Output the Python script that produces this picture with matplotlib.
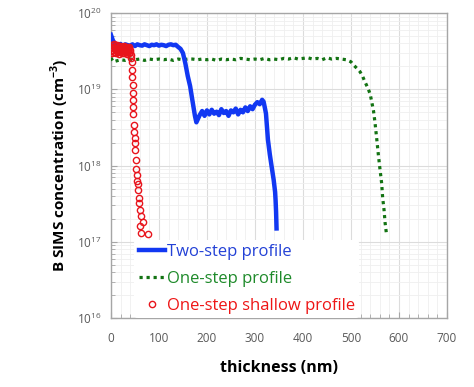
import matplotlib
matplotlib.use("Agg")
import matplotlib.pyplot as plt
from matplotlib.ticker import MultipleLocator, LogLocator, NullFormatter

plt.rcParams['font.family'] = ['Open Sans', 'DejaVu Sans']
plt.rcParams['mathtext.fontset'] = 'custom'
plt.rcParams['mathtext.rm'] = 'Open Sans'
plt.rcParams['mathtext.bf'] = 'Open Sans:bold'

# Two-step profile (blue)
two_x = [0, 2, 4, 6, 8, 10, 15, 20, 25, 30, 35, 40, 45, 50, 55, 60, 65, 70, 75, 80, 85, 90,
         95, 100, 105, 110, 115, 120, 125, 130, 135, 140, 145, 150, 155, 160, 165, 170, 175,
         178, 182, 185, 190, 195, 200, 205, 210, 215, 220, 225, 230, 235, 240, 245, 250, 255,
         260, 265, 270, 275, 280, 285, 290, 295, 300, 305, 310, 315, 318, 321, 323, 327, 331,
         335, 339, 342, 343, 344, 345]
two_y = [5.2e19, 4.8e19, 4.4e19, 4.2e19, 4.0e19, 3.9e19, 3.8e19, 3.95e19, 3.7e19, 3.9e19,
         3.8e19, 3.75e19, 3.9e19, 3.7e19, 3.9e19, 3.8e19, 3.75e19, 3.9e19, 3.8e19, 3.7e19,
         3.85e19, 3.8e19, 3.9e19, 3.75e19, 3.85e19, 3.8e19, 3.7e19, 3.85e19, 3.9e19, 3.8e19,
         3.85e19, 3.6e19, 3.4e19, 3.0e19, 2.2e19, 1.5e19, 1.1e19, 7.0e18, 4.5e18,
         3.7e18, 4.2e18, 4.6e18, 5.2e18, 4.5e18, 5.3e18, 4.7e18, 5.4e18, 4.8e18, 5.1e18,
         4.6e18, 5.5e18, 4.9e18, 5.2e18, 4.5e18, 5.3e18, 5.0e18, 5.6e18, 4.7e18, 5.4e18,
         5.0e18, 5.8e18, 5.2e18, 6.0e18, 5.5e18, 6.3e18, 6.8e18, 6.4e18, 7.3e18, 6.9e18,
         5.6e18, 4.8e18, 2.2e18, 1.4e18, 9.5e17, 6.5e17, 4.5e17, 3.5e17, 2.5e17, 1.5e17]

# One-step profile (green)
one_x = [0, 5, 10, 20, 30, 40, 50, 60, 70, 80, 90, 100, 110, 120, 130, 140, 150, 160, 170,
         180, 190, 200, 210, 220, 230, 240, 250, 260, 270, 280, 290, 300, 310, 320, 330, 340,
         350, 360, 370, 380, 390, 400, 410, 420, 430, 440, 450, 460, 470, 480, 490, 500, 505,
         512, 519, 524, 529, 535, 540, 544, 547, 550, 553.5, 557, 560, 564, 566, 569, 571, 574]
one_y = [2.6e19, 2.3e19, 2.35e19, 2.45e19, 2.4e19, 2.5e19, 2.45e19, 2.5e19, 2.4e19, 2.5e19,
         2.45e19, 2.5e19, 2.45e19, 2.5e19, 2.4e19, 2.5e19, 2.45e19, 2.5e19, 2.5e19, 2.45e19,
         2.5e19, 2.45e19, 2.5e19, 2.4e19, 2.5e19, 2.45e19, 2.5e19, 2.45e19, 2.55e19, 2.5e19,
         2.45e19, 2.5e19, 2.45e19, 2.55e19, 2.45e19, 2.5e19, 2.45e19, 2.55e19, 2.5e19, 2.6e19,
         2.5e19, 2.55e19, 2.6e19, 2.5e19, 2.55e19, 2.45e19, 2.6e19, 2.5e19, 2.55e19, 2.5e19,
         2.45e19, 2.3e19, 2.1e19, 1.9e19, 1.7e19, 1.5e19, 1.26e19, 1.05e19, 8.7e18, 6.5e18,
         5.2e18, 3.7e18, 2.3e18, 1.4e18, 9.5e17, 5.8e17, 3.8e17, 2.6e17, 1.8e17, 1.26e17]

# One-step shallow profile (red)
sh_x = [0, 1, 2, 3, 4, 5, 6, 7, 8, 9, 10, 11, 12, 13, 14, 15, 16, 17, 18, 19, 20, 21, 22, 23,
        24, 25, 26, 27, 28, 29, 30, 31, 32, 33, 34, 35, 36, 37, 38, 39, 40, 41, 42,
        43, 44, 44, 45, 45, 46, 46, 47, 48, 49, 50, 50, 51, 52, 53, 54, 55, 56, 57, 58, 59,
        60, 62, 66, 60, 63, 77]
sh_y = [3.6e19, 3.2e19, 3.8e19, 3.0e19, 3.5e19, 3.3e19, 3.9e19, 3.1e19, 3.4e19, 3.7e19,
        3.0e19, 3.5e19, 3.2e19, 3.8e19, 3.1e19, 3.4e19, 3.6e19, 2.9e19, 3.3e19, 3.7e19,
        3.1e19, 3.5e19, 3.2e19, 3.6e19, 3.0e19, 3.4e19, 3.3e19, 3.7e19, 3.0e19, 3.5e19,
        3.2e19, 3.6e19, 3.1e19, 3.4e19, 2.9e19, 3.5e19, 3.2e19, 3.6e19, 3.0e19, 3.3e19,
        3.1e19, 2.8e19, 2.6e19,
        2.3e19, 1.8e19, 1.45e19, 1.15e19, 9.1e18, 7.2e18, 5.9e18, 4.7e18, 3.4e18, 2.8e18,
        2.3e18, 2.0e18, 1.6e18, 1.2e18, 9.1e17, 7.6e17, 6.3e17, 5.8e17, 4.8e17, 3.8e17,
        3.2e17, 2.6e17, 2.2e17, 1.8e17, 1.6e17, 1.3e17, 1.26e17]

labels = ["Two-step profile", "One-step profile", "One-step shallow profile"]
blue, green, red = "#1238f2", "#137313", "#e8141c"
text_colors = ["#2341d6", "#1e8a2a", "#ee1515"]

fig = plt.figure(figsize=(4.74, 3.87), dpi=100)
ax = fig.add_axes([0.234, 0.178, 0.709, 0.788])

ax.plot(one_x, one_y, color=green, linestyle=(0, (1, 1.2)), linewidth=2.3, zorder=3,
        label=labels[1])
ax.plot(two_x, two_y, color=blue, linewidth=3.2, zorder=4, label=labels[0])
ax.plot(sh_x, sh_y, linestyle='none', marker='o', markersize=4.5, markerfacecolor='none',
        markeredgecolor=red, markeredgewidth=1.0, zorder=5, label=labels[2])

ax.set_yscale('log')
ax.set_xlim(0, 700)
ax.set_ylim(1e16, 1e20)
ax.xaxis.set_major_locator(MultipleLocator(100))
ax.xaxis.set_minor_locator(MultipleLocator(20))
ax.yaxis.set_major_locator(LogLocator(base=10, numticks=10))
ax.yaxis.set_minor_locator(LogLocator(base=10, subs=range(2, 10), numticks=20))
ax.yaxis.set_minor_formatter(NullFormatter())

ax.grid(True, which='major', color='#dcdcdc', linewidth=0.8)
ax.grid(True, which='minor', color='#efefef', linewidth=0.6)
ax.set_axisbelow(True)
for s in ax.spines.values():
    s.set_color('#a6a6a6')
    s.set_linewidth(1.0)

ax.tick_params(which='both', direction='in', colors='#a6a6a6', labelcolor='#595959',
               labelsize=8.5, top=False, right=False)
ax.tick_params(axis='x', which='major', length=4, pad=10)
ax.tick_params(axis='x', which='minor', length=3)
ax.tick_params(axis='y', which='major', length=4, pad=7)
ax.tick_params(axis='y', which='minor', length=3)

ax.set_xlabel("thickness (nm)", fontsize=11.5, fontweight='bold', labelpad=11)
ax.set_ylabel("B SIMS concentration (cm$^{\\mathbf{-3}}$)", fontsize=11,
              fontweight='bold', labelpad=4)

h, l = ax.get_legend_handles_labels()
order = [1, 0, 2]
leg = ax.legend([h[i] for i in order], [l[i] for i in order], loc='lower left',
                bbox_to_anchor=(0.045, -0.027), fontsize=12, frameon=True, facecolor='white',
                edgecolor='none', framealpha=1.0, handlelength=1.6, handletextpad=0.1,
                labelspacing=0.65, borderpad=0.25)
for t, c in zip(leg.get_texts(), text_colors):
    t.set_color(c)

fig.savefig("out.png", dpi=100)
